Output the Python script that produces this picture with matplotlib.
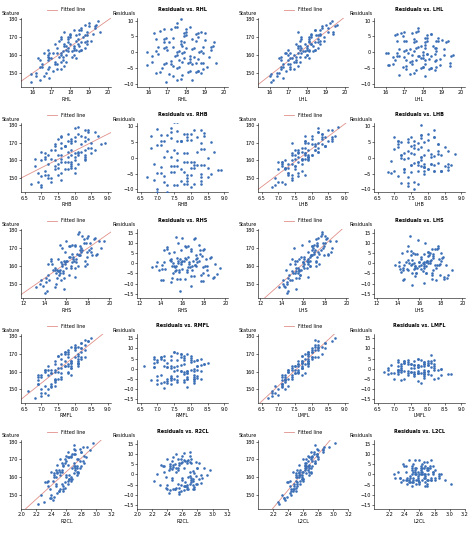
import matplotlib
matplotlib.use("Agg")
import matplotlib.pyplot as plt
import numpy as np

stature = [152,158,165,171,148,175,160,163,168,155,170,162,157,173,166,150,178,161,164,159,
169,154,172,167,146,176,163,158,171,160,165,153,174,162,168,156,149,170,164,161,
177,159,166,152,172,163,157,168,160,175,155,165,170,147,162,173,158,167,151,169,
164,156,174,161,166,153,171,159,179,163,
158,166,172,150,163,169,155,161,176,164,148,167,171,157,162,174,153,165,160,168,
145,170,159,163,177,156,166,152,173,161]

RHL = [17.3,16.9,18.2,18.3,16.6,18.6,18.2,16.8,19.1,17.2,17.5,18.5,16.4,18.9,18.9,16.7,19.0,16.6,18.8,17.6,
17.9,17.7,18.0,18.6,16.4,19.3,18.6,16.3,18.8,16.8,17.8,16.9,18.5,18.1,17.4,17.8,15.9,18.7,18.2,17.3,
18.8,18.1,17.2,17.5,18.5,18.2,16.8,18.3,17.5,19.3,16.5,18.5,18.0,16.9,17.6,17.7,18.3,17.9,17.1,18.4,
17.9,17.2,18.2,17.1,18.0,16.5,18.9,17.4,19.5,17.8,
17.0,18.4,19.2,16.2,18.3,17.5,17.3,16.9,19.0,17.3,16.2,18.8,18.0,17.6,17.9,18.6,16.4,17.7,17.8,18.9,
15.9,17.9,16.8,18.6,19.4,17.5,17.7,16.8,19.6,17.5]
LHL = [17.1,17.1,18.0,18.5,16.4,18.8,18.0,17.0,18.9,17.0,17.7,18.3,16.6,19.1,18.7,16.5,19.2,16.8,18.6,17.4,
18.1,17.5,18.2,18.4,16.2,19.5,18.4,16.5,18.6,17.0,17.6,17.1,18.7,17.9,17.6,17.6,16.1,18.9,18.0,17.5,
19.0,17.9,17.4,17.3,18.7,18.0,17.0,18.1,17.3,19.1,16.7,18.3,18.2,16.7,17.8,17.5,18.1,18.1,16.9,18.6,
17.7,17.4,18.4,16.9,18.2,16.7,18.7,17.6,19.3,17.6,
17.2,18.2,19.4,16.4,18.1,17.7,17.1,17.1,18.8,17.5,16.0,18.6,18.2,17.4,18.1,18.4,16.6,17.5,18.0,18.7,
16.1,18.1,16.6,18.4,19.6,17.3,17.9,16.6,19.4,17.7]
RHB = [7.5,7.2,8.1,7.9,7.3,8.1,7.0,8.3,7.7,7.4,7.6,8.0,7.4,8.3,7.9,7.2,8.0,8.3,7.1,7.6,
8.8,7.1,7.5,8.4,7.0,8.4,7.6,8.1,8.0,8.3,7.8,6.9,7.6,7.8,7.4,8.0,7.6,7.9,8.5,6.8,
8.4,7.9,8.6,7.2,7.9,8.1,6.8,7.7,8.0,7.8,7.8,7.0,8.9,6.7,8.3,7.6,7.5,8.5,7.0,7.4,
8.1,7.5,8.2,7.1,8.3,8.0,7.8,7.7,8.1,7.9,
7.9,7.4,8.4,7.3,7.2,8.2,7.7,7.3,8.6,8.0,6.9,7.6,8.3,7.9,7.1,8.7,7.6,8.2,7.4,7.7,
7.0,8.5,7.8,7.5,8.3,7.9,7.3,7.1,8.0,7.6]
LHB = [7.3,7.7,8.2,7.8,7.1,8.3,7.7,7.5,8.4,7.5,7.4,7.9,7.1,8.6,7.5,7.4,8.2,7.7,7.8,7.0,
8.1,7.7,8.3,7.7,6.9,8.2,7.9,7.3,8.6,7.4,8.2,7.6,7.8,7.9,8.1,7.2,7.4,7.9,7.8,7.5,
8.5,7.1,7.9,7.8,8.6,7.4,7.5,8.4,7.2,8.3,7.0,7.7,8.2,7.2,7.6,8.3,7.4,7.8,7.6,8.0,
7.6,7.3,8.7,7.9,7.6,7.3,8.5,7.1,8.8,7.8,
7.1,8.1,8.0,6.9,8.0,8.3,7.2,7.8,8.2,7.4,7.0,8.2,7.8,7.5,7.9,8.0,7.3,7.6,7.9,8.4,
6.8,7.8,7.6,8.0,8.6,7.2,8.1,7.4,8.4,7.7]
RHS = [15.5,14.8,17.9,16.2,14.9,17.6,16.4,15.8,18.3,15.3,15.6,16.9,15.7,17.6,17.2,13.5,17.1,17.9,14.6,16.4,
17.5,16.8,15.4,18.9,14.2,17.9,16.0,14.9,17.3,17.7,16.2,15.8,16.0,16.5,17.4,15.0,13.8,19.2,16.6,15.6,
18.0,14.9,18.8,14.4,16.8,17.7,15.2,15.9,17.1,18.6,14.3,16.3,17.4,15.8,15.5,17.8,15.4,16.5,14.1,17.3,
15.2,15.7,19.0,14.7,18.4,15.1,16.3,16.0,17.2,16.7,
15.1,17.2,16.5,15.0,14.6,18.1,16.2,14.3,18.7,16.9,13.2,17.0,16.8,15.3,15.9,19.5,14.1,16.6,15.6,17.9,
14.0,18.3,16.8,16.1,17.5,15.4,17.3,13.6,18.2,15.9]
LHS = [14.9,15.6,17.3,16.8,14.3,17.2,16.6,15.4,18.6,15.7,15.1,17.2,15.3,18.0,16.7,14.1,17.7,17.5,14.9,16.1,
17.1,16.4,15.9,18.3,14.6,17.4,16.4,14.4,17.9,17.2,16.6,15.3,16.5,16.0,17.0,15.5,14.2,18.7,16.1,16.1,
17.6,15.3,18.3,14.8,17.3,17.2,15.6,16.4,16.6,18.1,14.7,15.8,16.9,15.3,16.0,17.3,15.8,17.0,14.5,16.8,
15.6,15.2,18.5,15.2,17.9,15.6,16.8,15.5,17.7,16.3,
15.6,16.7,17.0,14.5,15.2,17.6,15.7,14.8,18.2,16.4,13.7,17.5,17.3,14.9,16.4,19.0,14.6,16.1,16.0,17.4,
14.5,17.8,16.3,16.6,18.0,15.0,16.8,14.1,17.8,16.4]
RMFL = [7.4,7.0,8.1,7.8,7.1,8.0,7.8,7.2,8.3,7.4,7.8,7.9,6.9,8.2,8.1,7.2,8.3,7.1,8.1,7.6,
7.5,7.4,8.0,8.2,7.0,8.2,8.1,6.9,7.7,7.1,7.9,7.3,7.9,7.9,7.8,7.6,6.6,8.1,7.8,7.4,
8.4,7.8,7.4,7.3,7.8,7.7,7.0,8.0,7.5,8.3,6.9,8.1,7.7,7.2,7.6,8.0,7.9,7.6,7.3,8.1,
7.6,7.4,8.1,7.2,7.9,6.9,8.2,7.3,8.5,7.7,
7.2,7.9,8.3,7.0,7.8,7.5,7.4,7.1,8.2,7.4,7.0,8.1,7.7,7.6,7.5,8.0,6.9,7.9,7.4,8.2,
6.8,7.6,7.3,7.9,8.4,7.5,7.7,7.1,8.2,7.3]
LMFL = [7.3,7.2,7.9,8.0,6.9,8.2,7.6,7.4,8.1,7.2,7.9,7.7,7.1,8.4,7.9,7.0,8.1,7.3,7.9,7.8,
7.7,7.2,8.2,8.0,6.8,8.4,7.9,7.1,7.9,7.3,7.7,7.1,8.1,7.7,8.0,7.4,6.8,8.3,7.6,7.6,
8.2,7.6,7.6,7.1,8.0,7.5,7.2,8.2,7.3,8.1,7.1,7.9,7.9,7.0,7.4,8.2,7.7,7.8,7.1,7.9,
7.8,7.2,8.3,7.4,7.7,7.1,8.0,7.5,8.7,7.5,
7.4,7.7,8.1,7.2,7.6,7.7,7.2,7.3,8.4,7.6,6.8,7.9,7.9,7.4,7.7,8.2,7.1,7.7,7.6,8.0,
6.7,7.8,7.5,7.7,8.6,7.3,7.9,6.9,8.0,7.5]
R2CL = [2.50,2.42,2.78,2.62,2.38,2.72,2.66,2.48,2.84,2.56,2.52,2.76,2.34,2.70,2.80,2.40,2.70,2.64,2.54,2.68,
2.60,2.58,2.84,2.48,2.30,2.78,2.76,2.36,2.66,2.46,2.72,2.56,2.62,2.70,2.54,2.62,2.44,2.74,2.72,2.52,
2.88,2.64,2.56,2.50,2.60,2.74,2.32,2.70,2.60,2.92,2.36,2.74,2.58,2.42,2.44,2.72,2.66,2.56,2.48,2.78,
2.46,2.54,2.80,2.44,2.70,2.38,2.64,2.66,2.96,2.40,
2.62,2.74,2.66,2.26,2.52,2.82,2.46,2.60,2.70,2.50,2.40,2.62,2.86,2.58,2.48,2.80,2.52,2.68,2.44,2.58,
2.22,2.76,2.64,2.54,2.82,2.46,2.72,2.56,2.68,2.74]
L2CL = [2.46,2.50,2.70,2.68,2.34,2.80,2.58,2.54,2.76,2.48,2.60,2.70,2.40,2.78,2.72,2.44,2.76,2.56,2.62,2.60,
2.66,2.50,2.78,2.54,2.26,2.86,2.70,2.42,2.72,2.52,2.64,2.48,2.70,2.64,2.62,2.56,2.38,2.80,2.66,2.58,
2.94,2.58,2.62,2.44,2.66,2.68,2.38,2.76,2.54,2.86,2.42,2.68,2.64,2.36,2.50,2.78,2.60,2.62,2.42,2.72,
2.52,2.48,2.86,2.50,2.64,2.44,2.70,2.60,3.02,2.46,
2.56,2.68,2.72,2.32,2.58,2.76,2.52,2.54,2.78,2.56,2.34,2.68,2.80,2.52,2.54,2.74,2.46,2.62,2.50,2.64,
2.28,2.70,2.58,2.60,2.88,2.52,2.66,2.50,2.74,2.68]

variables = [("RHL", RHL), ("LHL", LHL), ("RHB", RHB), ("LHB", LHB), ("RHS", RHS),
             ("LHS", LHS), ("RMFL", RMFL), ("LMFL", LMFL), ("R2CL", R2CL), ("L2CL", L2CL)]
xticks = {"RHL": [16,17,18,19,20], "LHL": [16,17,18,19,20],
          "RHB": [6.5,7,7.5,8,8.5,9], "LHB": [6.5,7,7.5,8,8.5,9],
          "RHS": [12,14,16,18,20], "LHS": [12,14,16,18,20],
          "RMFL": [6.5,7,7.5,8,8.5,9], "LMFL": [6.5,7,7.5,8,8.5,9],
          "R2CL": [2,2.2,2.4,2.6,2.8,3,3.2], "L2CL": [2.2,2.4,2.6,2.8,3,3.2]}
xlims = {"RHL": (15.4,20.2), "LHL": (15.4,20.2), "RHB": (6.4,9.1), "LHB": (6.4,9.1),
         "RHS": (11.8,20.2), "LHS": (11.8,20.2), "RMFL": (6.4,9.1), "LMFL": (6.4,9.1),
         "R2CL": (2.0,3.2), "L2CL": (2.0,3.2)}

plt.rcParams['font.family'] = ['DejaVu Sans']
fig = plt.figure(figsize=(4.74, 5.33), dpi=100)
blue = "#3b6fb6"
red = "#e0908a"
fs = 3.5
y_all = np.array(stature, float)

def style(ax):
    for s in ("top", "right"):
        ax.spines[s].set_visible(False)
    for s in ("left", "bottom"):
        ax.spines[s].set_linewidth(0.4)
    ax.tick_params(labelsize=fs, length=1.5, width=0.4, pad=1)

lefts = [0.045, 0.29, 0.545, 0.79]
w = 0.19
h = 0.13
for i, (name, xs) in enumerate(variables):
    row, pair = i // 2, i % 2
    bottom = 1 - (row + 1) * 0.198 + 0.035
    n = min(len(xs), len(y_all))
    x = np.array(xs[:n], float)
    y = y_all[:n]
    b, a = np.polyfit(x, y, 1)
    res = y - (a + b * x)
    lo, hi = xlims[name]

    ax = fig.add_axes([lefts[pair*2], bottom, w, h])
    style(ax)
    ax.scatter(x, y, s=3.5, color=blue, linewidths=0, zorder=3)
    xx = np.array([lo, hi])
    ax.plot(xx, a + b * xx, color=red, lw=0.6, label="Fitted line", zorder=2)
    ax.set_xlim(lo, hi); ax.set_ylim(142, 181)
    ax.set_xticks(xticks[name]); ax.set_yticks([150, 160, 170, 180])
    ax.set_xlabel(name, fontsize=fs, labelpad=1)
    ax.text(-0.02, 1.02, "Stature", transform=ax.transAxes, fontsize=fs, ha="right", va="bottom")
    ax.legend(loc="lower center", bbox_to_anchor=(0.5, 1.04), frameon=False, fontsize=fs,
              handlelength=2, borderpad=0)

    ax2 = fig.add_axes([lefts[pair*2+1], bottom, w, h])
    style(ax2)
    ax2.scatter(x, res, s=3.5, color=blue, linewidths=0, zorder=3)
    ax2.set_xlim(lo, hi)
    ax2.set_xticks(xticks[name])
    lim = 11 if row < 2 else 17
    ax2.set_ylim(-lim, lim)
    ax2.set_yticks([-10,-5,0,5,10] if row < 2 else [-15,-10,-5,0,5,10,15])
    ax2.set_xlabel(name, fontsize=fs, labelpad=1)
    ax2.text(-0.02, 1.02, "Residuals", transform=ax2.transAxes, fontsize=fs, ha="right", va="bottom")
    ax2.set_title("Residuals vs. " + name, fontsize=fs, fontweight="bold", pad=5)

fig.savefig("out.png", dpi=100)
